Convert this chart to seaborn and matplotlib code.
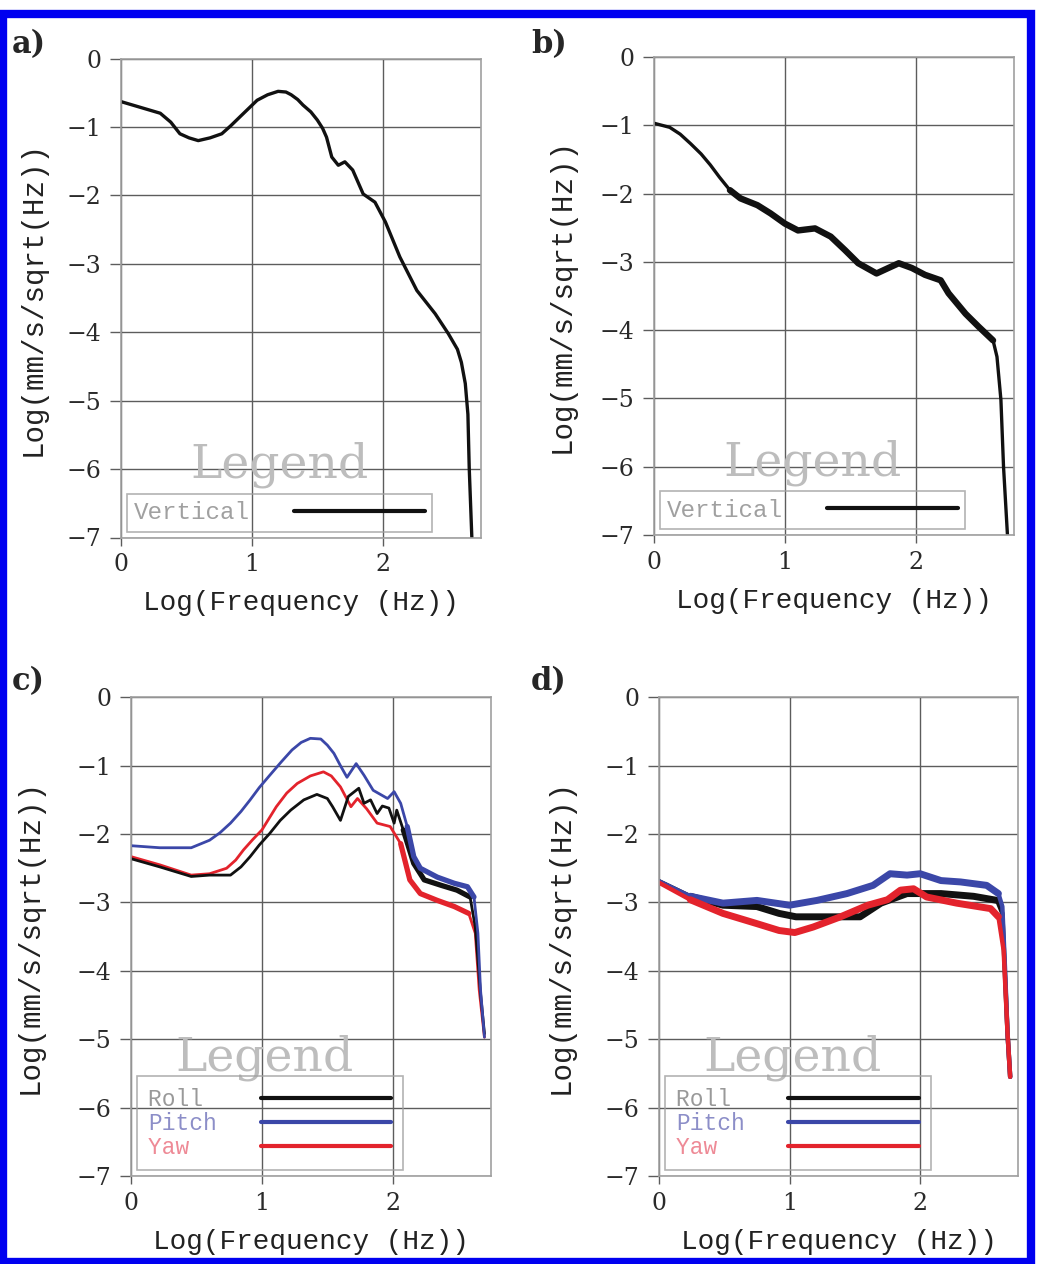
import numpy as np
import pandas as pd
import seaborn as sns
import matplotlib.pyplot as plt
from matplotlib.lines import Line2D
from matplotlib.patches import Rectangle

sns.set_theme(style="whitegrid")
plt.rcParams["font.family"] = ["DejaVu Serif", "DejaVu Sans"]
plt.rcParams["axes.unicode_minus"] = True

# a) vertical, first run
a_freq = [0.00, 0.30, 0.38, 0.45, 0.52, 0.59, 0.68, 0.77, 0.84, 0.91, 1.04, 1.12, 1.20, 1.26,
          1.30, 1.35, 1.39, 1.45, 1.50, 1.54, 1.57, 1.61, 1.66, 1.71, 1.77, 1.85, 1.94,
          2.02, 2.13, 2.26, 2.40, 2.50, 2.57, 2.60, 2.63, 2.65, 2.66, 2.68]
a_psd = [-0.63, -0.80, -0.93, -1.10, -1.16, -1.20, -1.16, -1.10, -0.98, -0.85, -0.61, -0.53, -0.48, -0.49,
         -0.53, -0.60, -0.68, -0.78, -0.90, -1.02, -1.15, -1.44, -1.56, -1.51, -1.63, -1.98, -2.10,
         -2.39, -2.90, -3.39, -3.73, -4.02, -4.25, -4.44, -4.75, -5.20, -5.98, -7.00]

# b) vertical, second run
b_freq = [0.00, 0.12, 0.20, 0.28, 0.36, 0.43, 0.50, 0.58, 0.66, 0.79, 0.89, 1.00, 1.10, 1.23,
          1.35, 1.46, 1.56, 1.70, 1.79, 1.87, 1.97, 2.07, 2.19, 2.25, 2.38, 2.48, 2.59,
          2.62, 2.65, 2.67, 2.70]
b_psd = [-0.97, -1.03, -1.13, -1.27, -1.42, -1.58, -1.76, -1.95, -2.07, -2.17, -2.29, -2.44, -2.54, -2.51,
         -2.63, -2.83, -3.02, -3.17, -3.09, -3.02, -3.09, -3.19, -3.27, -3.46, -3.76, -3.95, -4.15,
         -4.39, -5.02, -6.00, -7.00]

# c) angular, first run
c_roll_freq = [0.00, 0.22, 0.46, 0.60, 0.76, 0.84, 0.91, 0.98, 1.06, 1.14, 1.22, 1.32, 1.42, 1.50,
               1.54, 1.60, 1.66, 1.74, 1.78, 1.83, 1.88, 1.92, 1.97, 2.01, 2.03, 2.08, 2.16,
               2.24, 2.37, 2.49, 2.59, 2.63, 2.67, 2.70]
c_roll_psd = [-2.36, -2.48, -2.62, -2.60, -2.60, -2.48, -2.33, -2.16, -1.99, -1.80, -1.65, -1.50, -1.42, -1.48,
              -1.60, -1.80, -1.45, -1.33, -1.55, -1.50, -1.70, -1.59, -1.62, -1.84, -1.65, -1.94, -2.43,
              -2.67, -2.75, -2.82, -2.92, -3.36, -4.33, -4.92]
c_pitch_freq = [0.00, 0.22, 0.46, 0.60, 0.68, 0.76, 0.84, 0.91, 0.98, 1.06, 1.15, 1.23, 1.30, 1.37,
                1.45, 1.50, 1.55, 1.60, 1.65, 1.72, 1.78, 1.85, 1.96, 2.01, 2.06, 2.11, 2.16,
                2.21, 2.34, 2.47, 2.57, 2.62, 2.65, 2.67, 2.70]
c_pitch_psd = [-2.17, -2.20, -2.20, -2.09, -1.98, -1.84, -1.67, -1.50, -1.32, -1.14, -0.94, -0.77, -0.66, -0.60,
               -0.61, -0.70, -0.82, -1.00, -1.17, -0.97, -1.14, -1.36, -1.48, -1.38, -1.55, -1.89, -2.33,
               -2.50, -2.63, -2.72, -2.77, -2.92, -3.45, -4.28, -4.97]
c_yaw_freq = [0.00, 0.22, 0.46, 0.60, 0.73, 0.80, 0.86, 0.93, 1.00, 1.11, 1.19, 1.27, 1.37, 1.47,
              1.53, 1.60, 1.68, 1.73, 1.80, 1.88, 1.98, 2.06, 2.13, 2.21, 2.34, 2.47, 2.58,
              2.63, 2.66, 2.70]
c_yaw_psd = [-2.33, -2.45, -2.60, -2.58, -2.50, -2.38, -2.23, -2.08, -1.94, -1.60, -1.40, -1.26, -1.15, -1.09,
             -1.15, -1.31, -1.60, -1.48, -1.63, -1.84, -1.89, -2.14, -2.67, -2.87, -2.97, -3.06, -3.16,
             -3.45, -4.28, -4.97]

# d) angular, second run
d_roll_freq = [0.00, 0.24, 0.49, 0.75, 0.92, 1.05, 1.18, 1.39, 1.54, 1.70, 1.90, 2.16, 2.41,
               2.59, 2.63, 2.67, 2.69]
d_roll_psd = [-2.69, -2.91, -3.04, -3.06, -3.16, -3.21, -3.21, -3.21, -3.21, -3.01, -2.87, -2.87, -2.91,
              -2.97, -3.16, -4.92, -5.55]
d_pitch_freq = [0.00, 0.24, 0.49, 0.75, 1.00, 1.21, 1.44, 1.64, 1.77, 1.90, 2.00, 2.16, 2.31,
                2.51, 2.60, 2.63, 2.65, 2.67, 2.69]
d_pitch_psd = [-2.69, -2.91, -3.01, -2.97, -3.04, -2.97, -2.87, -2.75, -2.58, -2.60, -2.58, -2.68, -2.70,
               -2.75, -2.87, -3.06, -3.94, -4.92, -5.55]
d_yaw_freq = [0.00, 0.24, 0.49, 0.75, 0.92, 1.04, 1.18, 1.39, 1.60, 1.75, 1.85, 1.95, 2.05,
              2.28, 2.54, 2.60, 2.64, 2.67, 2.69]
d_yaw_psd = [-2.71, -2.96, -3.16, -3.31, -3.41, -3.44, -3.36, -3.21, -3.04, -2.96, -2.82, -2.80, -2.92,
             -3.01, -3.09, -3.21, -3.70, -4.92, -5.55]

channels = ["Roll", "Pitch", "Yaw"]
colors = {"Vertical": "#111111", "Roll": "#111111", "Pitch": "#3b47a8", "Yaw": "#e3232c"}
label_colors = {"Vertical": "#a0a0a0", "Roll": "#999999", "Pitch": "#8c8ec8", "Yaw": "#ee8a96"}

traces = [
    ("a", "Vertical", a_freq, a_psd, None),
    ("b", "Vertical", b_freq, b_psd, (0.62, 2.60)),
    ("c", "Roll", c_roll_freq, c_roll_psd, (2.14, 2.62)),
    ("c", "Pitch", c_pitch_freq, c_pitch_psd, (2.14, 2.62)),
    ("c", "Yaw", c_yaw_freq, c_yaw_psd, (2.10, 2.62)),
    ("d", "Roll", d_roll_freq, d_roll_psd, (0.45, 2.62)),
    ("d", "Pitch", d_pitch_freq, d_pitch_psd, (0.45, 2.62)),
    ("d", "Yaw", d_yaw_freq, d_yaw_psd, (0.45, 2.62)),
]

# split each trace into smooth / noisy stretches, noisy ones get drawn fatter
rows = []
for panel, name, xs, ys, band in traces:
    seg, prev = 0, None
    for x, y in zip(xs, ys):
        kind = "noisy" if band and band[0] <= x <= band[1] else "smooth"
        if prev is not None and kind != prev[2]:
            seg += 1
            rows.append((panel, name, f"{name}{seg}", kind, prev[0], prev[1]))
        rows.append((panel, name, f"{name}{seg}", kind, x, y))
        prev = (x, y, kind)
df = pd.DataFrame(rows, columns=["panel", "channel", "seg", "band", "freq", "psd"])

widths = {
    "a": {"smooth": 2.4, "noisy": 2.4},
    "b": {"smooth": 2.4, "noisy": 4.6},
    "c": {"smooth": 2.0, "noisy": 3.8},
    "d": {"smooth": 3.2, "noisy": 5.0},
}
draw_order = {"a": ["Vertical"], "b": ["Vertical"],
              "c": ["Yaw", "Roll", "Pitch"], "d": ["Roll", "Pitch", "Yaw"]}
legend_names = {"a": ["Vertical"], "b": ["Vertical"], "c": channels, "d": channels}

W, H = 1041, 1264
# axes boxes in pixels: left, right, top, bottom
boxes = {
    "a": (121, 481, 58.5, 537.5),
    "b": (654, 1014, 57, 535),
    "c": (131, 491, 697.3, 1176),
    "d": (659, 1018, 697.3, 1176),
}
ylabel_x = {"a": -0.206, "b": -0.219, "c": -0.242, "d": -0.234}
letters = {"a": (12, 45), "b": (531, 45), "c": (12, 682), "d": (531, 682)}

fig = plt.figure(figsize=(W / 100, H / 100), dpi=100)
fig.patch.set_facecolor("white")

for panel in "abcd":
    l, r, t, b = boxes[panel]
    ax = fig.add_axes([l / W, 1 - b / H, (r - l) / W, (b - t) / H])
    sub = df[df["panel"] == panel]
    levels = [k for k in ["smooth", "noisy"] if k in set(sub["band"])]
    sns.lineplot(
        data=sub, x="freq", y="psd", hue="channel", hue_order=draw_order[panel],
        palette=colors, size="band", size_order=levels,
        sizes={k: widths[panel][k] for k in levels},
        units="seg", estimator=None, sort=False, legend=False, ax=ax,
    )
    ax.set_xlim(0, 2.75)
    ax.set_ylim(-7, 0)
    ax.set_xticks([0, 1, 2])
    ax.set_yticks(range(-7, 1))
    ax.grid(True, color="#5c5c5c", lw=1.0)
    for s in ax.spines.values():
        s.set_color("#a0a0a0")
        s.set_linewidth(1.2)
    ax.tick_params(axis="y", left=True, length=8, width=1, color="#5c5c5c",
                   pad=6, labelsize=17, labelcolor="#2a2a2a")
    ax.tick_params(axis="x", bottom=True, length=5.5, width=1, color="#5c5c5c",
                   pad=6, labelsize=17, labelcolor="#2a2a2a")

    ax.set_xlabel("Log(Frequency (Hz))", family="Liberation Mono", fontsize=20, color="#222222")
    ax.set_ylabel("Log(mm/s/sqrt(Hz))", family="Liberation Mono", fontsize=21, color="#222222")
    ax.xaxis.set_label_coords(0.5, -0.11)
    ax.yaxis.set_label_coords(ylabel_x[panel], 0.5)

    # legend block
    names = legend_names[panel]
    n = max(len(s) for s in names)
    handles = [Line2D([], [], color=colors[s], lw=3) for s in names]
    if panel in "ab":
        fs, hl, tp, bp, ls = 17.5, 5.4, 1.8, 0.3, 0.0
    else:
        fs, hl, tp, bp, ls = 16.5, 5.7, 1.9, 0.5, 0.04
    leg = ax.legend(handles, [s.ljust(n) for s in names], loc="lower left",
                    bbox_to_anchor=(0.016, 0.0125), borderaxespad=0, markerfirst=False,
                    fancybox=False, prop={"family": "Liberation Mono", "size": fs},
                    handlelength=hl, handletextpad=tp, borderpad=bp, labelspacing=ls)
    fr = leg.get_frame()
    fr.set_edgecolor("#a0a0a0")
    fr.set_facecolor("none")
    fr.set_linewidth(1.2)
    for txt, s in zip(leg.get_texts(), names):
        txt.set_color(label_colors[s])
    ly = 0.152 if panel in "ab" else 0.246
    lx = 0.44 if panel in "ab" else 0.372
    ax.text(lx, ly, "Legend", transform=ax.transAxes, ha="center", va="center",
            fontsize=34, color="#bdbdbd", family="DejaVu Serif")

    lx_px, ly_px = letters[panel]
    fig.text(lx_px / W, 1 - ly_px / H, panel + ")", fontsize=22, weight="bold",
             va="center", ha="left", family="DejaVu Serif")

# blue frame round the whole figure
fig.patches.append(Rectangle((3 / W, 1 - 1262 / H), 1027.5 / W, 1248 / H, fill=False,
                             edgecolor="#0000f0", lw=6, transform=fig.transFigure, figure=fig))

fig.savefig("out.png", dpi=100)
